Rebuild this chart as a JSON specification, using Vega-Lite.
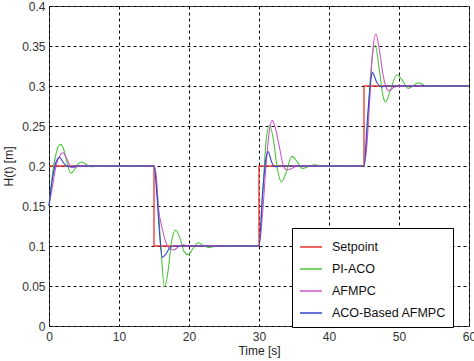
{
  "$schema": "https://vega.github.io/schema/vega-lite/v6.json",
  "width": 420,
  "height": 320,
  "autosize": {"type": "none"},
  "padding": {"left": 49, "top": 6, "right": 5, "bottom": 35},
  "background": "white",
  "config": {
    "view": {"stroke": "#444", "strokeWidth": 1},
    "font": "Liberation Sans",
    "axis": {
      "grid": true, "gridColor": "#000", "gridOpacity": 1, "gridDash": [3, 3], "gridWidth": 1,
      "domain": false, "ticks": false,
      "labelColor": "#333", "labelFont": "Liberation Sans", "labelFontSize": 12,
      "titleFont": "Liberation Sans", "titleFontSize": 12, "titleFontWeight": "normal", "titleColor": "#222"
    }
  },
  "data": {"values": [
    {"s": "Setpoint", "t": 0, "h": 0.2},
    {"s": "Setpoint", "t": 15, "h": 0.1},
    {"s": "Setpoint", "t": 30, "h": 0.2},
    {"s": "Setpoint", "t": 45, "h": 0.3},
    {"s": "Setpoint", "t": 60, "h": 0.3},

    {"s": "PI-ACO", "t": 0, "h": 0.15},
    {"s": "PI-ACO", "t": 0.5, "h": 0.19},
    {"s": "PI-ACO", "t": 1, "h": 0.215},
    {"s": "PI-ACO", "t": 1.6, "h": 0.227},
    {"s": "PI-ACO", "t": 2.1, "h": 0.221},
    {"s": "PI-ACO", "t": 2.6, "h": 0.203},
    {"s": "PI-ACO", "t": 3.1, "h": 0.191},
    {"s": "PI-ACO", "t": 3.6, "h": 0.195},
    {"s": "PI-ACO", "t": 4.2, "h": 0.203},
    {"s": "PI-ACO", "t": 4.7, "h": 0.205},
    {"s": "PI-ACO", "t": 5.3, "h": 0.202},
    {"s": "PI-ACO", "t": 6, "h": 0.199},
    {"s": "PI-ACO", "t": 7, "h": 0.2},
    {"s": "PI-ACO", "t": 15, "h": 0.2},
    {"s": "PI-ACO", "t": 15.5, "h": 0.165},
    {"s": "PI-ACO", "t": 16, "h": 0.095},
    {"s": "PI-ACO", "t": 16.5, "h": 0.049},
    {"s": "PI-ACO", "t": 17, "h": 0.068},
    {"s": "PI-ACO", "t": 17.5, "h": 0.105},
    {"s": "PI-ACO", "t": 18.1, "h": 0.12},
    {"s": "PI-ACO", "t": 18.7, "h": 0.11},
    {"s": "PI-ACO", "t": 19.3, "h": 0.093},
    {"s": "PI-ACO", "t": 19.9, "h": 0.089},
    {"s": "PI-ACO", "t": 20.5, "h": 0.096},
    {"s": "PI-ACO", "t": 21.3, "h": 0.104},
    {"s": "PI-ACO", "t": 22, "h": 0.101},
    {"s": "PI-ACO", "t": 22.9, "h": 0.098},
    {"s": "PI-ACO", "t": 24, "h": 0.1},
    {"s": "PI-ACO", "t": 30, "h": 0.1},
    {"s": "PI-ACO", "t": 30.5, "h": 0.16},
    {"s": "PI-ACO", "t": 31, "h": 0.23},
    {"s": "PI-ACO", "t": 31.5, "h": 0.251},
    {"s": "PI-ACO", "t": 32, "h": 0.236},
    {"s": "PI-ACO", "t": 32.6, "h": 0.198},
    {"s": "PI-ACO", "t": 33.2, "h": 0.18},
    {"s": "PI-ACO", "t": 33.8, "h": 0.19},
    {"s": "PI-ACO", "t": 34.7, "h": 0.212},
    {"s": "PI-ACO", "t": 35.4, "h": 0.206},
    {"s": "PI-ACO", "t": 36.2, "h": 0.197},
    {"s": "PI-ACO", "t": 37, "h": 0.199},
    {"s": "PI-ACO", "t": 38, "h": 0.2015},
    {"s": "PI-ACO", "t": 39, "h": 0.2},
    {"s": "PI-ACO", "t": 45, "h": 0.2},
    {"s": "PI-ACO", "t": 45.5, "h": 0.25},
    {"s": "PI-ACO", "t": 46, "h": 0.32},
    {"s": "PI-ACO", "t": 46.6, "h": 0.351},
    {"s": "PI-ACO", "t": 47.2, "h": 0.32},
    {"s": "PI-ACO", "t": 47.7, "h": 0.288},
    {"s": "PI-ACO", "t": 48.1, "h": 0.28},
    {"s": "PI-ACO", "t": 48.7, "h": 0.293},
    {"s": "PI-ACO", "t": 49.7, "h": 0.314},
    {"s": "PI-ACO", "t": 50.4, "h": 0.308},
    {"s": "PI-ACO", "t": 51.3, "h": 0.297},
    {"s": "PI-ACO", "t": 52.8, "h": 0.304},
    {"s": "PI-ACO", "t": 54, "h": 0.3},
    {"s": "PI-ACO", "t": 60, "h": 0.3},

    {"s": "AFMPC", "t": 0, "h": 0.15},
    {"s": "AFMPC", "t": 0.5, "h": 0.175},
    {"s": "AFMPC", "t": 1, "h": 0.2},
    {"s": "AFMPC", "t": 1.5, "h": 0.212},
    {"s": "AFMPC", "t": 2, "h": 0.2165},
    {"s": "AFMPC", "t": 2.5, "h": 0.21},
    {"s": "AFMPC", "t": 3.2, "h": 0.198},
    {"s": "AFMPC", "t": 4, "h": 0.199},
    {"s": "AFMPC", "t": 5, "h": 0.2},
    {"s": "AFMPC", "t": 15, "h": 0.2},
    {"s": "AFMPC", "t": 15.3, "h": 0.19},
    {"s": "AFMPC", "t": 15.6, "h": 0.15},
    {"s": "AFMPC", "t": 16.1, "h": 0.125},
    {"s": "AFMPC", "t": 16.6, "h": 0.107},
    {"s": "AFMPC", "t": 17.2, "h": 0.097},
    {"s": "AFMPC", "t": 17.8, "h": 0.095},
    {"s": "AFMPC", "t": 18.5, "h": 0.099},
    {"s": "AFMPC", "t": 19.2, "h": 0.1015},
    {"s": "AFMPC", "t": 20, "h": 0.1},
    {"s": "AFMPC", "t": 30, "h": 0.1},
    {"s": "AFMPC", "t": 30.5, "h": 0.14},
    {"s": "AFMPC", "t": 31, "h": 0.2},
    {"s": "AFMPC", "t": 31.5, "h": 0.245},
    {"s": "AFMPC", "t": 31.9, "h": 0.257},
    {"s": "AFMPC", "t": 32.4, "h": 0.245},
    {"s": "AFMPC", "t": 33, "h": 0.22},
    {"s": "AFMPC", "t": 33.5, "h": 0.2},
    {"s": "AFMPC", "t": 34, "h": 0.195},
    {"s": "AFMPC", "t": 34.7, "h": 0.197},
    {"s": "AFMPC", "t": 35.5, "h": 0.2},
    {"s": "AFMPC", "t": 45, "h": 0.2},
    {"s": "AFMPC", "t": 45.4, "h": 0.225},
    {"s": "AFMPC", "t": 45.8, "h": 0.28},
    {"s": "AFMPC", "t": 46.2, "h": 0.34},
    {"s": "AFMPC", "t": 46.7, "h": 0.365},
    {"s": "AFMPC", "t": 47.2, "h": 0.345},
    {"s": "AFMPC", "t": 47.7, "h": 0.315},
    {"s": "AFMPC", "t": 48.1, "h": 0.3},
    {"s": "AFMPC", "t": 48.6, "h": 0.294},
    {"s": "AFMPC", "t": 49.2, "h": 0.298},
    {"s": "AFMPC", "t": 50, "h": 0.3},
    {"s": "AFMPC", "t": 60, "h": 0.3},

    {"s": "ACO-Based AFMPC", "t": 0, "h": 0.15},
    {"s": "ACO-Based AFMPC", "t": 0.5, "h": 0.185},
    {"s": "ACO-Based AFMPC", "t": 1, "h": 0.205},
    {"s": "ACO-Based AFMPC", "t": 1.5, "h": 0.211},
    {"s": "ACO-Based AFMPC", "t": 2, "h": 0.205},
    {"s": "ACO-Based AFMPC", "t": 2.5, "h": 0.2},
    {"s": "ACO-Based AFMPC", "t": 3, "h": 0.199},
    {"s": "ACO-Based AFMPC", "t": 4, "h": 0.2},
    {"s": "ACO-Based AFMPC", "t": 15, "h": 0.2},
    {"s": "ACO-Based AFMPC", "t": 15.4, "h": 0.165},
    {"s": "ACO-Based AFMPC", "t": 15.8, "h": 0.115},
    {"s": "ACO-Based AFMPC", "t": 16.2, "h": 0.086},
    {"s": "ACO-Based AFMPC", "t": 16.7, "h": 0.09},
    {"s": "ACO-Based AFMPC", "t": 17.2, "h": 0.097},
    {"s": "ACO-Based AFMPC", "t": 17.8, "h": 0.1},
    {"s": "ACO-Based AFMPC", "t": 30, "h": 0.1},
    {"s": "ACO-Based AFMPC", "t": 30.5, "h": 0.165},
    {"s": "ACO-Based AFMPC", "t": 31, "h": 0.21},
    {"s": "ACO-Based AFMPC", "t": 31.3, "h": 0.218},
    {"s": "ACO-Based AFMPC", "t": 31.8, "h": 0.205},
    {"s": "ACO-Based AFMPC", "t": 32.3, "h": 0.199},
    {"s": "ACO-Based AFMPC", "t": 33, "h": 0.2},
    {"s": "ACO-Based AFMPC", "t": 45, "h": 0.2},
    {"s": "ACO-Based AFMPC", "t": 45.5, "h": 0.26},
    {"s": "ACO-Based AFMPC", "t": 46, "h": 0.31},
    {"s": "ACO-Based AFMPC", "t": 46.2, "h": 0.3167},
    {"s": "ACO-Based AFMPC", "t": 46.8, "h": 0.305},
    {"s": "ACO-Based AFMPC", "t": 47.5, "h": 0.299},
    {"s": "ACO-Based AFMPC", "t": 48.2, "h": 0.3},
    {"s": "ACO-Based AFMPC", "t": 60, "h": 0.3}
  ]},
  "encoding": {
    "x": {"field": "t", "type": "quantitative",
      "scale": {"domain": [0, 60], "nice": false, "zero": false},
      "axis": {"values": [0, 10, 20, 30, 40, 50, 60], "title": "Time [s]", "labelPadding": 5, "titlePadding": 3, "labelFlush": false}},
    "y": {"field": "h", "type": "quantitative",
      "scale": {"domain": [0, 0.4], "nice": false},
      "axis": {"values": [0, 0.05, 0.1, 0.15, 0.2, 0.25, 0.3, 0.35, 0.4], "format": ".2~f", "title": "H(t) [m]", "labelPadding": 4, "titlePadding": 6, "labelFlush": false}},
    "color": {"field": "s", "type": "nominal",
      "scale": {"domain": ["Setpoint", "PI-ACO", "AFMPC", "ACO-Based AFMPC"],
        "range": ["#e8332e", "#4cc43a", "#cc55cc", "#3344cc"]},
      "legend": {"title": null, "orient": "none", "legendX": 243, "legendY": 222,
        "strokeColor": "#000", "fillColor": "#fff", "padding": 7,
        "symbolType": "stroke", "symbolSize": 484, "symbolStrokeWidth": 1.5,
        "labelFontSize": 12.5, "labelColor": "#111", "labelFont": "Liberation Sans",
        "labelOffset": 9, "rowPadding": 3}}
  },
  "layer": [
    {"transform": [{"filter": "datum.s === 'Setpoint'"}],
     "mark": {"type": "line", "interpolate": "step-after", "strokeWidth": 1.3}},
    {"transform": [{"filter": "datum.s !== 'Setpoint'"}],
     "mark": {"type": "line", "interpolate": "monotone", "strokeWidth": 1.1}}
  ]
}
